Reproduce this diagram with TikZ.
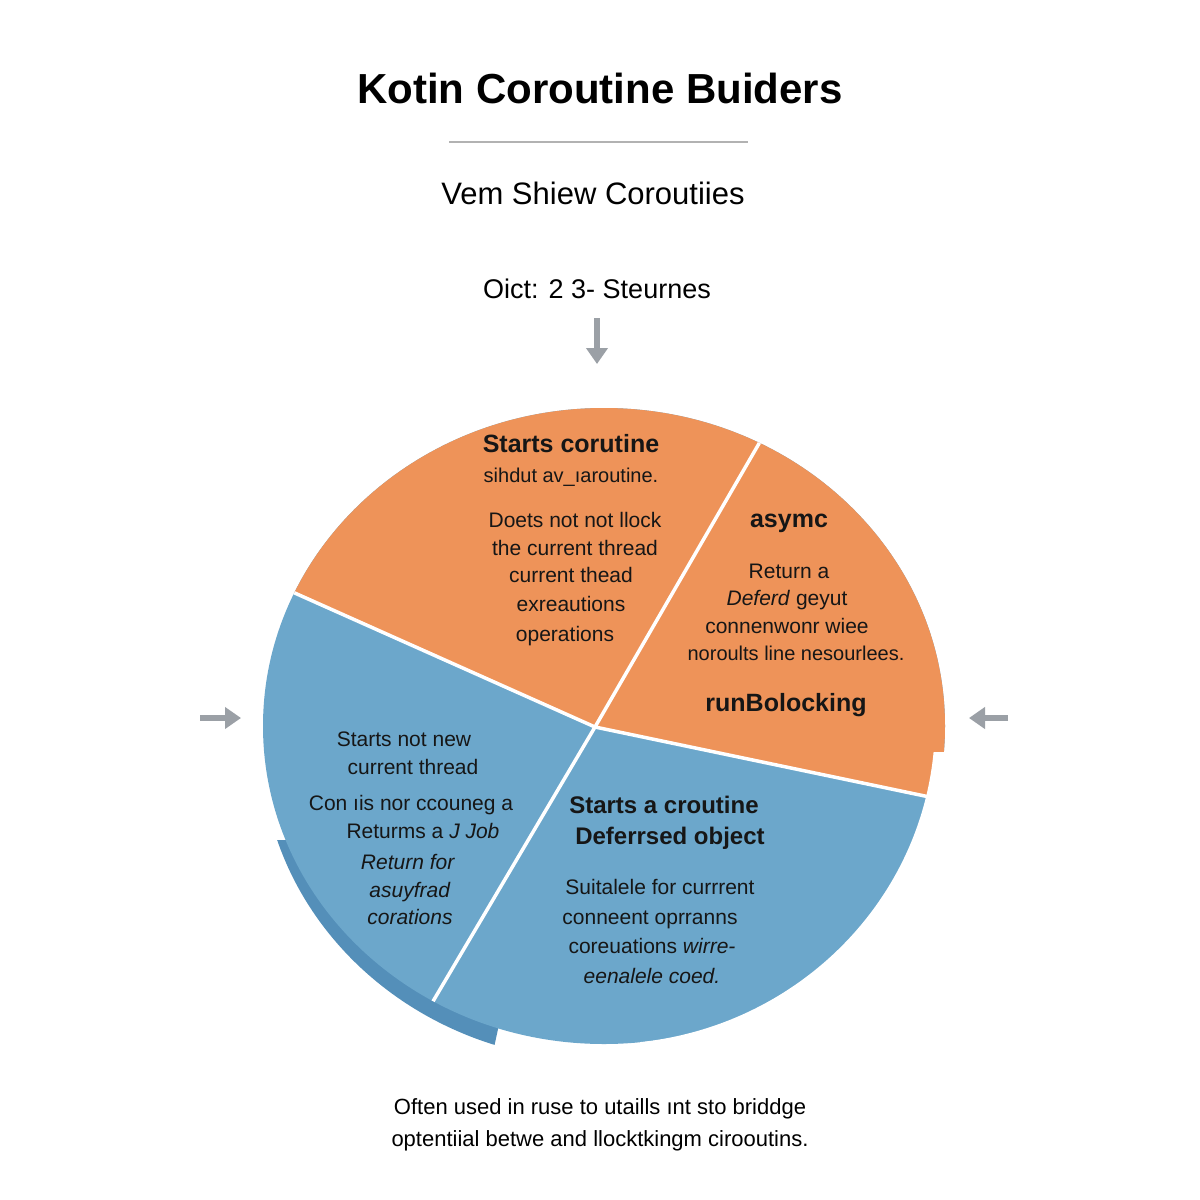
\documentclass[tikz,border=0pt]{standalone}
\usepackage{fontspec}
\setmainfont{Liberation Sans}
\usetikzlibrary{arrows.meta}
\definecolor{pieorange}{RGB}{238,147,89}
\definecolor{pieblue}{RGB}{108,167,203}
\definecolor{pieshadow}{RGB}{84,143,185}
\definecolor{arrowgray}{RGB}{155,160,166}
\definecolor{rulegray}{RGB}{178,178,178}
\definecolor{inkc}{RGB}{22,22,22}
\begin{document}
\begin{tikzpicture}[x=1pt,y=-1pt,
  txt/.style={inner sep=0pt, anchor=base, text=inkc, font=\fontsize{21}{25}\selectfont},
  hd/.style={inner sep=0pt, anchor=base, text=inkc, font=\fontsize{25}{30}\selectfont\bfseries},
  garrow/.style={draw=arrowgray, line width=6.5pt, -{Triangle[width=21pt,length=16pt]}},
  divider/.style={draw=white, line width=3.5pt}]
\useasboundingbox[fill=white] (0,0) rectangle (1200,1200);

% title block
\node[inner sep=0pt, anchor=base, text=black, font=\fontsize{42}{48}\selectfont\bfseries] (title) at (600,103) {Kotin Coroutine Buiders};
\coordinate (ruleL) at (449,142);
\coordinate (ruleR) at (748,142);
\draw[rulegray, line width=1.5pt] (ruleL) -- (ruleR);
\node[inner sep=0pt, anchor=base, text=black, font=\fontsize{31}{36}\selectfont] (subtitle) at (593,204) {Vem Shiew Coroutiies};
\node[inner sep=0pt, anchor=base, text=black, font=\fontsize{27}{32}\selectfont] (oict) at (597,298) {Oict: 2 3- Steurnes};

% arrows
\coordinate (dA1) at (597,318);
\coordinate (dA2) at (597,364);
\draw[garrow] (dA1) -- (dA2);
\coordinate (rA1) at (200,718);
\coordinate (rA2) at (241,718);
\draw[garrow] (rA1) -- (rA2);
\coordinate (lA1) at (1008,718);
\coordinate (lA2) at (969,718);
\draw[garrow] (lA1) -- (lA2);

% shadow of the pie
\begin{scope}
  \clip (150,840) -- (450,840) -- (500,1020) -- (488,1075) -- (150,1090) -- cycle;
  \fill[pieshadow] (602,743) ellipse [x radius=341pt, y radius=318pt];
\end{scope}

% pie
\coordinate (C) at (595,727);
\coordinate (rTop) at (941,129);
\coordinate (rLeft) at (-19,453);
\coordinate (rBot) at (269,1279);
\coordinate (rRight) at (1245,863);
\begin{scope}
  \clip (604,726) ellipse [x radius=341pt, y radius=318pt];
  \fill[pieblue] (0,300) rectangle (1200,1150);
  \fill[pieorange] (C) -- (rRight) -- (1245,0) -- (-100,0) -- (rLeft) -- cycle;
  \draw[divider] (C) -- (rTop);
  \draw[divider] (C) -- (rLeft);
  \draw[divider] (C) -- (rBot);
  \draw[divider] (C) -- (rRight);
\end{scope}
% stepped-in lower right edge
\begin{scope}
  \clip (640,752) rectangle (1000,1100);
  \fill[white, even odd rule] (630,740) rectangle (1010,1110) (604,722) ellipse [x radius=331pt, y radius=322pt];
\end{scope}

% orange top sector
\node[hd] (o1) at (571,452) {Starts corutine};
\node[txt, font=\fontsize{20}{24}\selectfont] (o2) at (571,482) {sihdut av\_ıaroutine.};
\node[txt] (o3) at (575,527) {Doets not not llock};
\node[txt] (o4) at (575,555) {the current thread};
\node[txt] (o5) at (571,582) {current thead};
\node[txt] (o6) at (571,611) {exreautions};
\node[txt] (o7) at (565,641) {operations};

% orange right sector
\node[hd] (a1) at (789,527) {asymc};
\node[txt] (a2) at (789,578) {Return a};
\node[txt] (a3) at (787,605) {\textit{Deferd} geyut};
\node[txt] (a4) at (787,633) {connenwonr wiee};
\node[txt, font=\fontsize{20}{24}\selectfont] (a5) at (796,660) {noroults line nesourlees.};
\node[hd] (a6) at (786,711) {runBolocking};

% blue left sector
\node[txt] (b1) at (404,746) {Starts not new};
\node[txt] (b2) at (413,774) {current thread};
\node[txt] (b3) at (411,810) {Con ıis nor ccouneg a};
\node[txt] (b4) at (423,838) {Returms a \textit{J Job}};
\node[txt] (b5) at (408,869) {\textit{Return for}};
\node[txt] (b6) at (410,897) {\textit{asuyfrad}};
\node[txt] (b7) at (410,924) {\textit{corations}};

% blue bottom sector
\node[hd, font=\fontsize{24}{29}\selectfont\bfseries] (c1) at (664,813) {Starts a croutine};
\node[hd, font=\fontsize{24}{29}\selectfont\bfseries] (c2) at (670,844) {Deferrsed object};
\node[txt] (c3) at (660,894) {Suitalele for currrent};
\node[txt] (c4) at (650,924) {conneent oprranns};
\node[txt] (c5) at (652,953) {coreuations \textit{wirre-}};
\node[txt] (c6) at (652,983) {\textit{eenalele coed.}};

% footer
\node[txt, text=black, font=\fontsize{22}{26}\selectfont] (f1) at (600,1114) {Often used in ruse to utaills ınt sto briddge};
\node[txt, text=black, font=\fontsize{22}{26}\selectfont] (f2) at (600,1146) {optentiial betwe and llocktkingm cirooutins.};
\end{tikzpicture}
\end{document}
